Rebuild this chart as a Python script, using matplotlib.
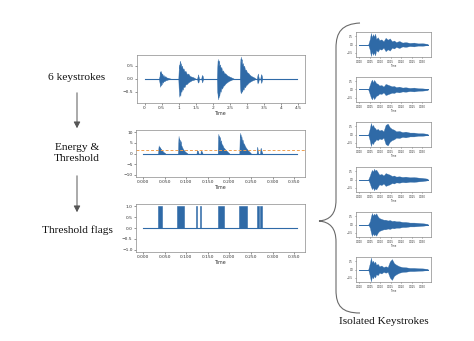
import matplotlib
matplotlib.use("Agg")
import matplotlib.pyplot as plt
from matplotlib.path import Path
from matplotlib.patches import PathPatch, FancyArrowPatch
import numpy as np

W, H = 474, 341
BLUE = "#2f6aa7"
FRAME = "#8a8a8a"

# ---------------- data ----------------
# raw waveform bursts: (times, upper envelope, lower envelope)
wave_duration = 4.48
wave_bursts = [
    ([0.42, 0.44, 0.45, 0.46, 0.47, 0.48, 0.49, 0.50, 0.52, 0.54, 0.56, 0.58, 0.61, 0.64, 0.68, 0.72, 0.78],
     [0, 0.10, 0.28, 0.18, 0.31, 0.20, 0.25, 0.15, 0.20, 0.10, 0.14, 0.07, 0.10, 0.05, 0.04, 0.02, 0],
     [0, -0.15, -0.22, -0.31, -0.20, -0.26, -0.16, -0.22, -0.12, -0.15, -0.08, -0.10, -0.06, -0.05, -0.03, -0.02, 0]),
    ([0.99, 1.00, 1.01, 1.02, 1.03, 1.04, 1.05, 1.06, 1.08, 1.10, 1.12, 1.14, 1.17, 1.20, 1.24, 1.28, 1.33, 1.38, 1.44, 1.50],
     [0, 0.30, 0.55, 0.40, 0.65, 0.69, 0.50, 0.60, 0.45, 0.50, 0.35, 0.40, 0.28, 0.30, 0.18, 0.20, 0.10, 0.08, 0.05, 0],
     [0, -0.35, -0.50, -0.69, -0.55, -0.60, -0.65, -0.45, -0.50, -0.38, -0.42, -0.30, -0.32, -0.22, -0.20, -0.14, -0.10, -0.06, -0.04, 0]),
    ([1.54, 1.56, 1.57, 1.58, 1.60], [0, 0.12, 0.17, 0.10, 0], [0, -0.15, -0.10, -0.13, 0]),
    ([1.66, 1.68, 1.69, 1.70, 1.72], [0, 0.15, 0.10, 0.12, 0], [0, -0.10, -0.14, -0.08, 0]),
    ([2.12, 2.13, 2.14, 2.15, 2.16, 2.17, 2.18, 2.19, 2.21, 2.23, 2.25, 2.27, 2.30, 2.33, 2.37, 2.41, 2.46, 2.51, 2.56, 2.62],
     [0, 0.40, 0.70, 0.50, 0.76, 0.60, 0.70, 0.50, 0.55, 0.40, 0.45, 0.30, 0.32, 0.22, 0.20, 0.14, 0.10, 0.07, 0.04, 0],
     [0, -0.50, -0.60, -0.79, -0.60, -0.72, -0.55, -0.65, -0.45, -0.50, -0.35, -0.38, -0.28, -0.25, -0.18, -0.14, -0.09, -0.06, -0.03, 0]),
    ([2.79, 2.80, 2.81, 2.82, 2.83, 2.84, 2.85, 2.86, 2.88, 2.90, 2.92, 2.94, 2.97, 3.00, 3.04, 3.08, 3.13, 3.18, 3.22, 3.26],
     [0, 0.50, 0.78, 0.60, 0.85, 0.70, 0.75, 0.55, 0.60, 0.45, 0.50, 0.35, 0.35, 0.25, 0.22, 0.15, 0.10, 0.07, 0.04, 0],
     [0, -0.35, -0.50, -0.56, -0.45, -0.52, -0.40, -0.48, -0.38, -0.42, -0.30, -0.33, -0.25, -0.22, -0.16, -0.12, -0.08, -0.05, -0.03, 0]),
    ([3.29, 3.31, 3.32, 3.33, 3.35], [0, 0.15, 0.20, 0.12, 0], [0, -0.18, -0.12, -0.14, 0]),
    ([3.39, 3.41, 3.42, 3.43, 3.45], [0, 0.18, 0.12, 0.14, 0], [0, -0.12, -0.16, -0.10, 0]),
]
wave_xticks = [0, 0.5, 1, 1.5, 2, 2.5, 3, 3.5, 4, 4.5]

# energy bursts: (times, energy)
energy_duration = 0.357
energy_bursts = [
    ([0.035, 0.0358, 0.0365, 0.0372, 0.038, 0.039, 0.040, 0.041, 0.042, 0.0435, 0.045, 0.047, 0.049, 0.052],
     [0, 2.5, 3.8, 2.6, 3.2, 2.4, 3.0, 2.0, 2.2, 1.5, 1.3, 0.8, 0.5, 0]),
    ([0.081, 0.0818, 0.0825, 0.083, 0.0838, 0.0845, 0.0855, 0.0865, 0.0875, 0.0885, 0.0895, 0.091, 0.093, 0.095, 0.097, 0.100, 0.103],
     [0, 5.0, 8.2, 6.0, 7.2, 5.0, 6.5, 4.5, 5.8, 4.0, 3.5, 2.8, 2.0, 1.5, 1.0, 0.5, 0]),
    ([0.124, 0.1248, 0.1255, 0.127, 0.129], [0, 1.6, 1.0, 1.3, 0]),
    ([0.133, 0.1338, 0.1345, 0.136, 0.138], [0, 1.5, 0.9, 1.1, 0]),
    ([0.173, 0.1738, 0.1745, 0.1752, 0.176, 0.177, 0.178, 0.179, 0.1805, 0.182, 0.184, 0.186, 0.188, 0.191, 0.194, 0.197, 0.200],
     [0, 6.0, 9.2, 7.0, 8.5, 6.5, 7.8, 5.5, 6.2, 4.5, 4.0, 3.0, 2.5, 1.8, 1.2, 0.6, 0]),
    ([0.223, 0.2238, 0.2245, 0.2252, 0.226, 0.227, 0.228, 0.229, 0.2305, 0.232, 0.234, 0.236, 0.238, 0.241, 0.244, 0.247, 0.250],
     [0, 6.5, 9.7, 7.5, 9.0, 6.8, 8.0, 5.8, 6.5, 5.0, 4.5, 3.5, 2.8, 2.0, 1.3, 0.7, 0]),
    ([0.263, 0.2638, 0.2645, 0.2655, 0.2668], [0, 2.2, 3.2, 1.8, 0]),
    ([0.271, 0.2718, 0.2725, 0.2738, 0.2765], [0, 2.0, 2.7, 1.6, 0]),
]
threshold = 1.6
time_xticks = [0.0, 0.05, 0.1, 0.15, 0.2, 0.25, 0.3, 0.35]

# threshold flags: intervals where flag == 1
flag_starts = [0.0338, 0.0792, 0.1230, 0.1315, 0.1730, 0.2230, 0.2638, 0.2715]
flag_ends = [0.0446, 0.0946, 0.1260, 0.1346, 0.1877, 0.2408, 0.2677, 0.2754]

# isolated keystrokes: envelopes sampled at key_times
key_duration = 0.0325
key_xticks = [0.0, 0.005, 0.010, 0.015, 0.020, 0.025, 0.030]
key_times = [0.0042, 0.0050, 0.0055, 0.0060, 0.0065, 0.0070, 0.0075, 0.0080, 0.0088,
             0.0095, 0.0105, 0.0115, 0.0125, 0.0135, 0.0145, 0.0155, 0.0165, 0.0175,
             0.0190, 0.0205, 0.0220, 0.0240, 0.0260, 0.0280, 0.0300, 0.0325]
key_amp_1 = [0, 0.35, 0.72, 0.45, 0.65, 0.50, 0.68, 0.35, 0.45, 0.28, 0.32, 0.20, 0.42,
             0.30, 0.38, 0.20, 0.25, 0.15, 0.22, 0.12, 0.15, 0.10, 0.12, 0.07, 0.08, 0.04]
key_amp_2 = [0, 0.30, 0.50, 0.62, 0.45, 0.60, 0.50, 0.40, 0.35, 0.25, 0.28, 0.18, 0.35,
             0.30, 0.25, 0.20, 0.22, 0.15, 0.18, 0.12, 0.14, 0.10, 0.12, 0.08, 0.07, 0.04]
key_amp_3 = [0, 0.40, 0.72, 0.50, 0.60, 0.45, 0.40, 0.30, 0.35, 0.25, 0.30, 0.20, 0.60,
             0.68, 0.45, 0.35, 0.30, 0.20, 0.22, 0.15, 0.18, 0.12, 0.12, 0.08, 0.08, 0.04]
key_amp_4 = [0, 0.25, 0.45, 0.60, 0.50, 0.67, 0.55, 0.62, 0.45, 0.30, 0.35, 0.25, 0.40,
             0.35, 0.30, 0.22, 0.25, 0.18, 0.20, 0.16, 0.18, 0.14, 0.15, 0.12, 0.10, 0.05]
key_amp_5 = [0, 0.20, 0.50, 0.72, 0.55, 0.68, 0.60, 0.70, 0.50, 0.40, 0.35, 0.30, 0.30,
             0.25, 0.28, 0.22, 0.24, 0.20, 0.20, 0.16, 0.16, 0.12, 0.12, 0.10, 0.08, 0.04]
key_amp_6 = [0, 0.40, 0.74, 0.45, 0.55, 0.40, 0.50, 0.30, 0.35, 0.20, 0.25, 0.15, 0.20,
             0.15, 0.50, 0.65, 0.40, 0.30, 0.20, 0.15, 0.14, 0.10, 0.10, 0.08, 0.07, 0.04]
keystrokes = [key_amp_1, key_amp_2, key_amp_3, key_amp_4, key_amp_5, key_amp_6]

# ---------------- figure ----------------
fig = plt.figure(figsize=(W / 100, H / 100), dpi=100)
fig.patch.set_facecolor("white")


def rect(x0, y0, x1, y1):
    return [x0 / W, 1 - y1 / H, (x1 - x0) / W, (y1 - y0) / H]


def style(ax, fs, tl):
    for s in ax.spines.values():
        s.set_color(FRAME)
        s.set_linewidth(0.5)
    ax.tick_params(labelsize=fs, length=tl, width=0.4, pad=1,
                   colors="#444444", labelcolor="#333333")


# Axes 1: raw waveform
ax1 = fig.add_axes(rect(137, 55, 305, 103))
ax1.plot([0, wave_duration], [0, 0], color=BLUE, lw=0.8)
for t, up, lo in wave_bursts:
    ax1.fill_between(t, lo, up, color=BLUE, lw=0.3)
ax1.set_xticks(wave_xticks)
ax1.set_xticklabels(["%g" % v for v in wave_xticks])
ax1.set_yticks([0.5, 0.0, -0.5])
ax1.set_ylim(-0.93, 0.91)
ax1.set_xlim(-0.22, 4.7)
ax1.set_xlabel("Time", fontsize=3.4, labelpad=0.5, color="#333333")
style(ax1, 3.2, 1.5)

# Axes 2: energy and threshold
ax2 = fig.add_axes(rect(136, 130, 305, 177))
ax2.plot([0, energy_duration], [0, 0], color=BLUE, lw=0.8)
for t, e in energy_bursts:
    ax2.fill_between(t, 0, e, color=BLUE, lw=0.3)
ax2.axhline(threshold, color="#f0a050", lw=0.7, ls=(0, (3, 2)))
ax2.set_xticks(time_xticks)
ax2.set_xticklabels(["%.3f" % v for v in time_xticks])
ax2.set_yticks([10, 5, 0, -5, -10])
ax2.set_ylim(-11, 11)
ax2.set_xlim(-0.016, 0.375)
ax2.set_xlabel("Time", fontsize=3.4, labelpad=0.5, color="#333333")
style(ax2, 3.2, 1.5)

# Axes 3: threshold flags
ax3 = fig.add_axes(rect(136, 204, 305, 252))
ax3.plot([0, energy_duration], [0, 0], color=BLUE, lw=0.8)
for s, e in zip(flag_starts, flag_ends):
    ax3.fill_between([s, e], 0, 1, color=BLUE, lw=0.4)
ax3.set_xticks(time_xticks)
ax3.set_xticklabels(["%.3f" % v for v in time_xticks])
ax3.set_yticks([1.0, 0.5, 0.0, -0.5, -1.0])
ax3.set_ylim(-1.1, 1.1)
ax3.set_xlim(-0.016, 0.375)
ax3.set_xlabel("Time", fontsize=3.4, labelpad=0.5, color="#333333")
style(ax3, 3.2, 1.5)

# Isolated keystrokes
for i, a in enumerate(keystrokes):
    top = 32 + 45 * i
    ax = fig.add_axes(rect(356, top, 431, top + 25))
    ax.plot([0, key_duration], [0, 0], color=BLUE, lw=0.7)
    a = np.asarray(a)
    ax.fill_between(key_times, -a, a, color=BLUE, lw=0.2)
    ax.set_xticks(key_xticks)
    ax.set_xticklabels(["%.3f" % v for v in key_xticks])
    ax.set_yticks([0.5, 0.0, -0.5])
    ax.set_ylim(-0.78, 0.78)
    ax.set_xlim(-0.0016, 0.0341)
    ax.set_xlabel("Time", fontsize=1.8, labelpad=0.3, color="#333333")
    style(ax, 1.8, 1.0)

# left labels
serif = ["Liberation Serif", "DejaVu Serif"]
fig.text(77 / W, 1 - 77 / H, "6 keystrokes", ha="center", va="center",
         fontsize=8.2, family=serif, color="#111111")
fig.text(77 / W, 1 - 153 / H, "Energy &\nThreshold", ha="center", va="center",
         fontsize=8.2, family=serif, color="#111111", linespacing=1.25)
fig.text(77 / W, 1 - 230 / H, "Threshold flags", ha="center", va="center",
         fontsize=8.2, family=serif, color="#111111")
fig.text(384 / W, 1 - 321 / H, "Isolated Keystrokes", ha="center", va="center",
         fontsize=8.2, family=serif, color="#111111")

# arrows
for y0, y1 in [(90, 131), (173, 215)]:
    arr = FancyArrowPatch((77 / W, 1 - y0 / H), (77 / W, 1 - y1 / H),
                          transform=fig.transFigure, arrowstyle="-|>,head_length=2.5,head_width=1.3",
                          color="#555555", lw=0.7, mutation_scale=1.5)
    fig.add_artist(arr)

# curly brace
def P(x, y):
    return (x / W, 1 - y / H)

verts = [P(360, 23), P(342, 24), P(336, 32), P(336, 48),
         P(336, 200),
         P(336, 214), P(330, 220), P(319, 221),
         P(330, 222), P(336, 228), P(336, 242),
         P(336, 290),
         P(336, 306), P(342, 313), P(360, 313)]
codes = [Path.MOVETO, Path.CURVE4, Path.CURVE4, Path.CURVE4,
         Path.LINETO,
         Path.CURVE4, Path.CURVE4, Path.CURVE4,
         Path.CURVE4, Path.CURVE4, Path.CURVE4,
         Path.LINETO,
         Path.CURVE4, Path.CURVE4, Path.CURVE4]
brace = PathPatch(Path(verts, codes), transform=fig.transFigure,
                  fill=False, edgecolor="#6a6a6a", lw=0.8)
fig.add_artist(brace)

fig.savefig("out.png", dpi=100, facecolor="white")
